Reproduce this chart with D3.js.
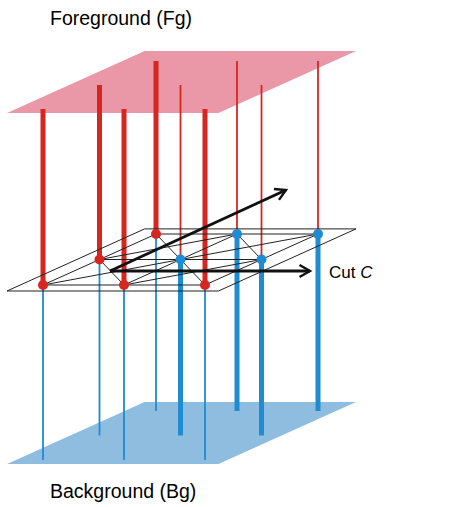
<!DOCTYPE html>
<html><head><meta charset="utf-8">
<script src="https://d3js.org/d3.v7.min.js"></script>
<style>body{margin:0;background:#fff}text{font-family:Arial,"Liberation Sans",sans-serif}</style>
</head><body>
<script>
// 3x3 pixel grid, row 0 = front, row 2 = back
var cols = [0, 1, 2];
var rows = [0, 1, 2];
// label of each node: "fg" or "bg", indexed [row][col]
var labels = [
    ["fg", "fg", "fg"],
    ["fg", "bg", "bg"],
    ["fg", "bg", "bg"]
];
var planeTitles = ["Foreground (Fg)", "Background (Bg)"];
var cutLabel = "Cut ";

var w = 474, h = 507;
var red = "#d7261f", blue = "#1f8bd0";

var svg = d3.select("body").append("svg")
    .attr("width", w)
    .attr("height", h);

// perspective: column moves right, row moves back (right + up)
var xCol = d3.scaleLinear().domain([0, 2]).range([43, 205]);
var xRowShift = d3.scaleLinear().domain([0, 2]).range([0, 113]);
var yRow = d3.scaleLinear().domain([0, 2]).range([285, 234]);
var yTop = d3.scaleLinear().domain([0, 2]).range([109, 61]);
var yBot = d3.scaleLinear().domain([0, 2]).range([460, 411]);

function px(c, r){ return xCol(c) + xRowShift(r); }

// plane corners in grid units (extends beyond nodes)
function plane(yOff){
    var c0 = -0.28, c1 = 2.33, r0 = -0.235, r1 = 2.2;
    return [[c0, r0], [c1, r0], [c1, r1], [c0, r1]].map(function(p){
        return [px(p[0], p[1]), yRow(p[1]) + yOff];
    });
}

var nodes = [];
rows.forEach(function(r){
    cols.forEach(function(c){
        nodes.push({c: c, r: r, lab: labels[r][c]});
    });
});

// Foreground plane
svg.append("polygon")
    .attr("points", plane(-178).join(" "))
    .style("fill", "#ea97a7");
// Background plane
svg.append("polygon")
    .attr("points", plane(173).join(" "))
    .style("fill", "#8fbde0");

// links down to background (drawn under the grid)
svg.selectAll(".down").data(nodes).enter().append("line")
    .attr("x1", function(d){ return px(d.c, d.r); })
    .attr("x2", function(d){ return px(d.c, d.r); })
    .attr("y1", function(d){ return yRow(d.r); })
    .attr("y2", function(d){ return yBot(d.r); })
    .style("stroke", blue)
    .style("stroke-width", function(d){ return d.lab == "bg" ? 5 : 1.8; });

// links up to foreground
svg.selectAll(".up").data(nodes).enter().append("line")
    .attr("x1", function(d){ return px(d.c, d.r); })
    .attr("x2", function(d){ return px(d.c, d.r); })
    .attr("y1", function(d){ return yRow(d.r); })
    .attr("y2", function(d){ return yTop(d.r); })
    .style("stroke", red)
    .style("stroke-width", function(d){ return d.lab == "fg" ? 5 : 1.8; });

// middle plane outline
svg.append("polygon")
    .attr("points", plane(0).join(" "))
    .style("fill", "none")
    .style("stroke", "#222")
    .style("stroke-width", 1);

// neighbourhood edges
var edges = [];
rows.forEach(function(r){
    cols.forEach(function(c){
        if (c < 2) edges.push([c, r, c + 1, r]);
        if (r < 2) edges.push([c, r, c, r + 1]);
        if (c < 2 && r < 2) edges.push([c, r, c + 1, r + 1]);
        if (c < 2 && r > 0) edges.push([c, r, c + 1, r - 1]);
    });
});
svg.selectAll(".edge").data(edges).enter().append("line")
    .attr("x1", function(d){ return px(d[0], d[1]); })
    .attr("y1", function(d){ return yRow(d[1]); })
    .attr("x2", function(d){ return px(d[2], d[3]); })
    .attr("y2", function(d){ return yRow(d[3]); })
    .style("stroke", "#222")
    .style("stroke-width", 1);

// arrowheads
svg.append("defs").append("marker")
    .attr("id", "head")
    .attr("viewBox", "0 0 10 10")
    .attr("refX", 8).attr("refY", 5)
    .attr("markerWidth", 5).attr("markerHeight", 5)
    .attr("orient", "auto")
    .append("path")
    .attr("d", "M1,1 L8,5 L1,9")
    .style("fill", "none")
    .style("stroke", "#111")
    .style("stroke-width", 1.6);

var arrows = [[110, 271, 310, 271], [110, 271, 286, 190]];
svg.selectAll(".arrow").data(arrows).enter().append("line")
    .attr("x1", function(d){ return d[0]; })
    .attr("y1", function(d){ return d[1]; })
    .attr("x2", function(d){ return d[2]; })
    .attr("y2", function(d){ return d[3]; })
    .style("stroke", "#111")
    .style("stroke-width", 3)
    .attr("marker-end", "url(#head)");

// nodes
svg.selectAll(".node").data(nodes).enter().append("circle")
    .attr("cx", function(d){ return px(d.c, d.r); })
    .attr("cy", function(d){ return yRow(d.r); })
    .attr("r", 5)
    .style("fill", function(d){ return d.lab == "fg" ? red : blue; });

// texts
svg.append("text").attr("x", 50).attr("y", 25)
    .style("font-size", "19.5px").text(planeTitles[0]);
svg.append("text").attr("x", 50).attr("y", 498)
    .style("font-size", "19.5px").text(planeTitles[1]);
var cut = svg.append("text").attr("x", 329).attr("y", 278)
    .style("font-size", "17px").text(cutLabel);
cut.append("tspan").style("font-style", "italic").text("C");
</script>
</body></html>
